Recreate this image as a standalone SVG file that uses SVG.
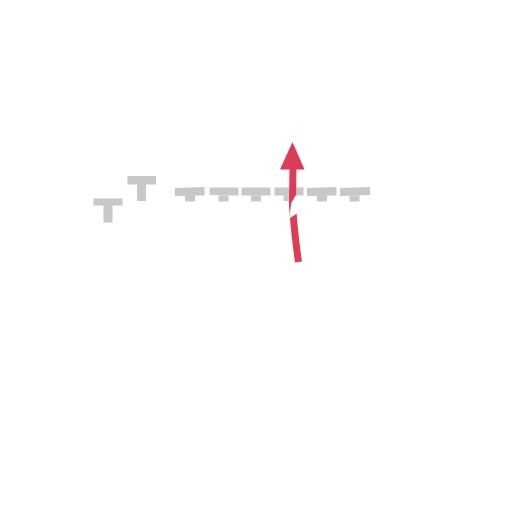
<svg xmlns="http://www.w3.org/2000/svg" width="512" height="512" viewBox="0 0 512 512">
<style>
.t{fill:#c8c8c8}
.r{fill:none;stroke:#dc3d56;stroke-width:7}
</style>
<rect width="512" height="512" fill="#fff"/>
<g id="t1" class="t"><rect x="93.5" y="198.5" width="29" height="7"/><rect x="103.5" y="205" width="9" height="17.5"/></g>
<g id="t2" class="t"><rect x="127.5" y="176" width="28.5" height="8.5"/><rect x="137" y="184" width="9" height="17"/></g>
<g id="t3" class="t"><polygon points="175,188 204.5,187 204.5,195.5 175,196"/><rect x="185" y="195.5" width="10" height="6"/></g>
<g id="t4" class="t"><polygon points="209.5,187.5 238.5,187.5 238.5,195.5 209.5,195"/><rect x="218.5" y="195.5" width="10" height="6"/></g>
<g id="t5" class="t"><rect x="241.5" y="187.5" width="29" height="8"/><rect x="251" y="195.5" width="10" height="6"/></g>
<g id="t6" class="t"><rect x="274.5" y="187.5" width="29" height="8"/><rect x="283.5" y="195.5" width="9" height="5.5"/></g>
<g id="t7" class="t"><polygon points="307,188 336.5,187 336.5,195.5 307,196"/><rect x="317" y="195.5" width="10" height="6"/></g>
<g id="t8" class="t"><polygon points="340,188 370,187 370,195 340,196"/><rect x="349.5" y="195.5" width="10" height="6"/></g>
<g id="connectors">
<path class="r" d="M298.5,262 Q294,230 292.5,205 L293,166"/>
<polygon points="295.8,195.2 291.3,203 289.3,218.5 298.5,212.5 301,200" fill="#fff"/>
<polygon points="292.5,142 280,169.5 304.5,169.5" fill="#dc3d56"/>
</g>
</svg>
